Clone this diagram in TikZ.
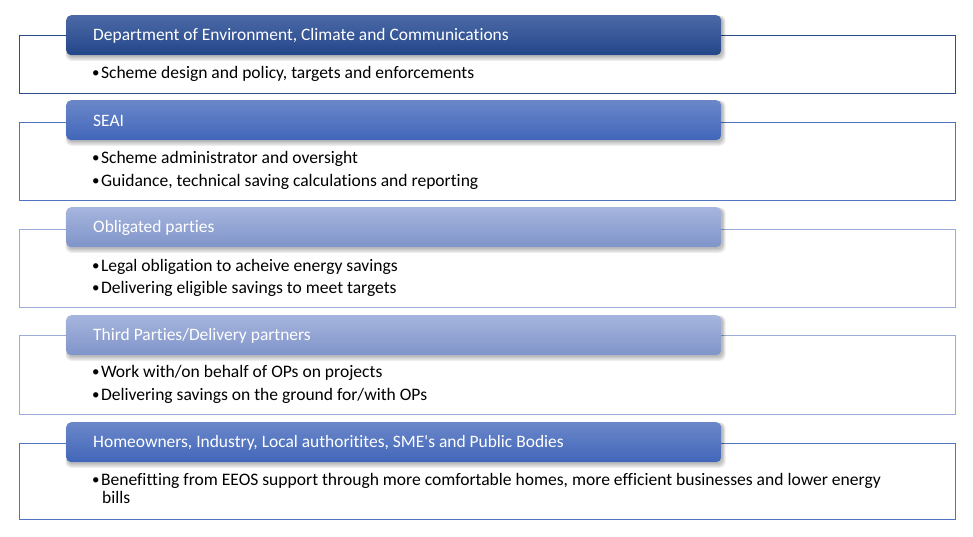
\documentclass[tikz,border=0pt]{standalone}
\usepackage{fontspec}
\setmainfont{Carlito}[Ligatures=CommonOff]
\usetikzlibrary{calc}
\definecolor{hAtop}{HTML}{4C69A6}
\definecolor{hAbot}{HTML}{23468A}
\definecolor{bA}{HTML}{2E4C86}
\definecolor{hBtop}{HTML}{6B87C9}
\definecolor{hBbot}{HTML}{4166B9}
\definecolor{bB}{HTML}{4F74C0}
\definecolor{hCtop}{HTML}{A6B5DE}
\definecolor{hCbot}{HTML}{7F94C9}
\definecolor{bC}{HTML}{9CACD8}
\tikzset{
  x=1pt, y=-1pt,
  outerbox/.style={draw, line width=1pt, fill=white, inner sep=0pt, anchor=north west,
    minimum width=936pt},
  hdr/.style={rounded corners=5pt, inner sep=0pt, anchor=north west,
    minimum width=655pt, minimum height=40pt},
  htext/.style={anchor=west, inner sep=0pt, text=white, font=\fontsize{17.45}{21}\selectfont},
  body/.style={anchor=west, inner sep=0pt, text=black, font=\fontsize{17.55}{17}\selectfont},
  shd/.style={fill=black, opacity=0.07, rounded corners=6pt},
}
\newcommand{\bul}{\raisebox{0.5pt}{\scalebox{0.85}{\textbullet}}\kern1.4pt}
\newcommand{\hshadow}[2]{%
  \foreach \e in {1,2,3,4}{
    \fill[shd] ($(#1)+(2-0.6*\e,2-0.4*\e)$) rectangle ($(#2)+(1+0.9*\e,1+1.2*\e)$);
  }}
\begin{document}
\begin{tikzpicture}
\useasboundingbox (0,0) rectangle (973,537);
% boxes
\node[outerbox, draw=bA, minimum height=58pt] (b1) at (19,35) {};
\node[outerbox, draw=bB, minimum height=78pt] (b2) at (19,122) {};
\node[outerbox, draw=bC, minimum height=78pt] (b3) at (19,229) {};
\node[outerbox, draw=bC, minimum height=79pt] (b4) at (19,335) {};
\node[outerbox, draw=bB, minimum height=76pt] (b5) at (19,443) {};
% header shadows
\coordinate (s1a) at (66,15);  \coordinate (s1b) at (721,55);
\coordinate (s2a) at (66,100); \coordinate (s2b) at (721,140);
\coordinate (s3a) at (66,207); \coordinate (s3b) at (721,247);
\coordinate (s4a) at (66,315); \coordinate (s4b) at (721,355);
\coordinate (s5a) at (66,422); \coordinate (s5b) at (721,462);
\hshadow{s1a}{s1b}\hshadow{s2a}{s2b}\hshadow{s3a}{s3b}\hshadow{s4a}{s4b}\hshadow{s5a}{s5b}
% headers
\node[hdr, top color=hAtop, bottom color=hAbot] (H1) at (s1a) {};
\node[hdr, top color=hBtop, bottom color=hBbot] (H2) at (s2a) {};
\node[hdr, top color=hCtop, bottom color=hCbot] (H3) at (s3a) {};
\node[hdr, top color=hCtop, bottom color=hCbot] (H4) at (s4a) {};
\node[hdr, top color=hBtop, bottom color=hBbot] (H5) at (s5a) {};
\node[htext] (L1) at (93,35.5) {Department of Environment, Climate and Communications};
\node[htext] (L2) at (93,120.5) {SEAI};
\node[htext] (L3) at (93,227.5) {Obligated parties};
\node[htext] (L4) at (93,335.5) {Third Parties/Delivery partners};
\node[htext] (L5) at (93,442.5) {Homeowners, Industry, Local authoritites, SME\textquotesingle s and Public Bodies};
% body text
\node[body] (t11) at (92,73.5) {\bul Scheme design and policy, targets and enforcements};
\node[body] (t21) at (92,158.5) {\bul Scheme administrator and oversight};
\node[body] (t22) at (92,181.5) {\bul Guidance, technical saving calculations and reporting};
\node[body] (t31) at (92,266.5) {\bul Legal obligation to acheive energy savings};
\node[body] (t32) at (92,288.5) {\bul Delivering eligible savings to meet targets};
\node[body] (t41) at (92,372.5) {\bul Work with/on behalf of OPs on projects};
\node[body] (t42) at (92,395.5) {\bul Delivering savings on the ground for/with OPs};
\node[body] (t51) at (92,480.5) {\bul Benefitting from EEOS support through more comfortable homes, more efficient businesses and lower energy};
\node[body] (t52) at (102,497.5) {bills};
\end{tikzpicture}
\end{document}
